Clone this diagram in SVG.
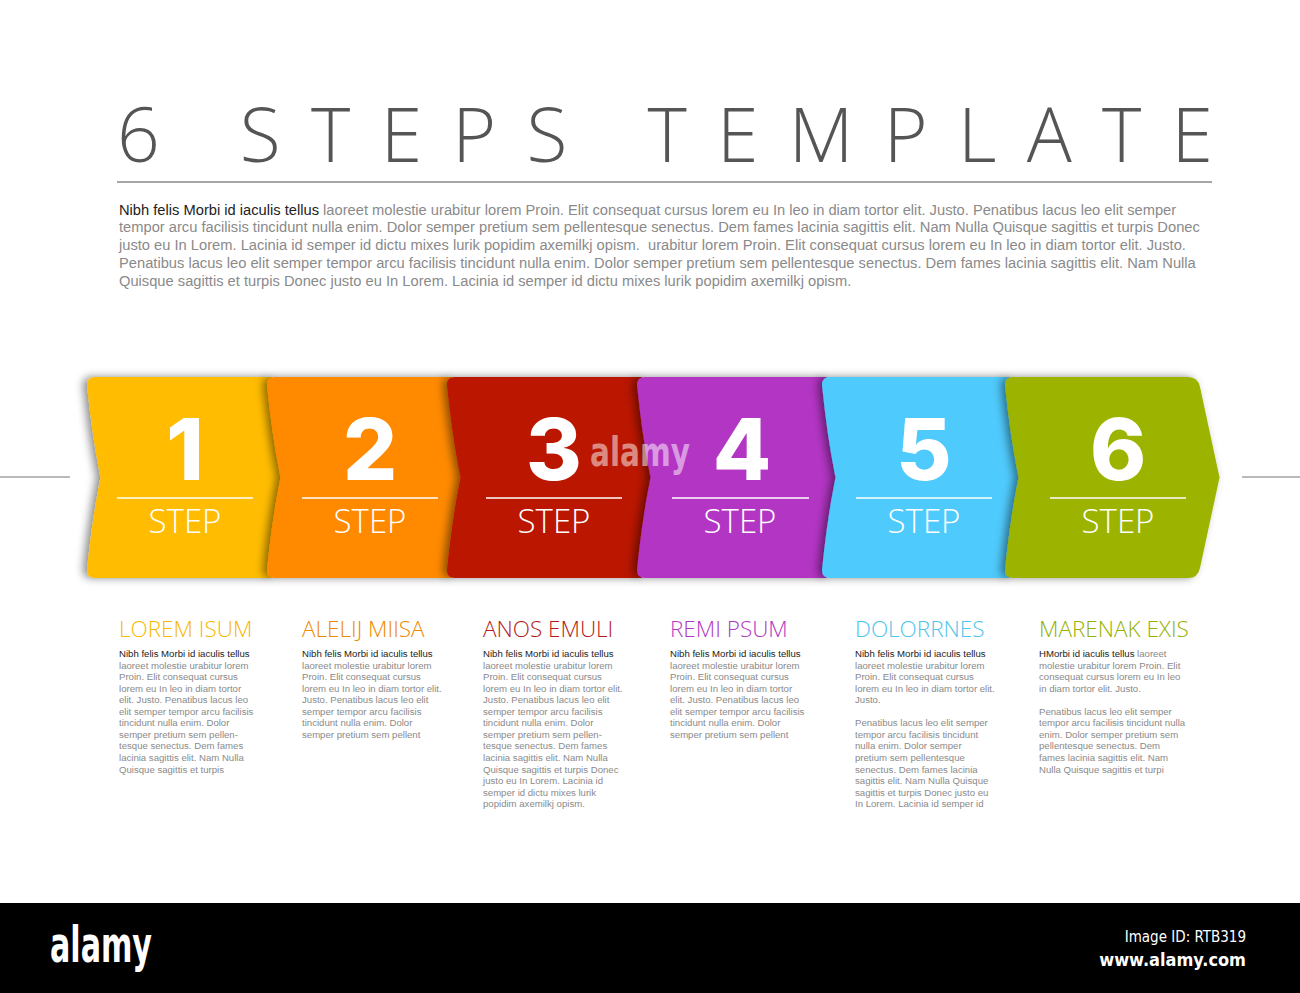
<svg xmlns="http://www.w3.org/2000/svg" width="1300" height="993" viewBox="0 0 1300 993">
<style>
.title{font-family:"Open Sans","Liberation Sans",sans-serif;font-weight:300;font-size:75px;fill:#555}
.para{font-family:"Liberation Sans",Arial,sans-serif;font-size:14.7px;fill:#8a8a8a}
.dark{fill:#222}
.num{font-family:Inter,"Open Sans","Liberation Sans",sans-serif;font-weight:800;font-size:85px;fill:#fff;text-anchor:middle}
.step{font-family:"Open Sans","Liberation Sans",sans-serif;font-weight:300;font-size:33px;fill:#fff;text-anchor:middle}
.rule{stroke:#fff;stroke-width:1.5}
.head{font-family:"Open Sans","Liberation Sans",sans-serif;font-weight:300;font-size:22.5px}
.body{font-family:"Liberation Sans",Arial,sans-serif;font-size:9.6px;fill:#8a8a8a}
.side{stroke:#777;stroke-width:1.2}
</style>
<defs>
<filter id="sh" x="-20%" y="-10%" width="140%" height="120%">
<feDropShadow dx="-4" dy="0" stdDeviation="4" flood-color="#000" flood-opacity="0.45"/>
</filter>
</defs>
<rect width="1300" height="993" fill="#fff"/>

<g id="header">
<text class="title" x="117" y="162" textLength="1096" lengthAdjust="spacing">6 STEPS TEMPLATE</text>
<line x1="117" y1="182" x2="1212" y2="182" stroke="#888" stroke-width="1.5"/>
<text class="para" x="119" y="214.5"><tspan class="dark">Nibh felis Morbi id iaculis tellus</tspan> laoreet molestie urabitur lorem Proin. Elit consequat cursus lorem eu In leo in diam tortor elit. Justo. Penatibus lacus leo elit semper</text>
<text class="para" x="119" y="232.3">tempor arcu facilisis tincidunt nulla enim. Dolor semper pretium sem pellentesque senectus. Dem fames lacinia sagittis elit. Nam Nulla Quisque sagittis et turpis Donec</text>
<text class="para" x="119" y="250" xml:space="preserve">justo eu In Lorem. Lacinia id semper id dictu mixes lurik popidim axemilkj opism.  urabitur lorem Proin. Elit consequat cursus lorem eu In leo in diam tortor elit. Justo.</text>
<text class="para" x="119" y="267.8">Penatibus lacus leo elit semper tempor arcu facilisis tincidunt nulla enim. Dolor semper pretium sem pellentesque senectus. Dem fames lacinia sagittis elit. Nam Nulla</text>
<text class="para" x="119" y="285.5">Quisque sagittis et turpis Donec justo eu In Lorem. Lacinia id semper id dictu mixes lurik popidim axemilkj opism.</text>
</g>

<g id="connectors">
<line class="side" x1="0" y1="477" x2="70" y2="477"/>
<line class="side" x1="1242" y1="477" x2="1300" y2="477"/>
</g>

<g id="step1">
<path filter="url(#sh)" fill="#FFBC00" d="M95 377 H272 L292 477.5 L272 578 H95 Q87 578 87 570 Q92 520 100 480 Q101 477.5 100 475 Q92 435 87 385 Q87 377 95 377 Z"/>
<text class="num" x="185" y="480">1</text>
<line class="rule" x1="117" y1="498" x2="253" y2="498"/>
<text class="step" x="185" y="533">STEP</text>
</g>
<g id="step2">
<path filter="url(#sh)" fill="#FF8A00" d="M275 377 H452 L472 477.5 L452 578 H275 Q267 578 267 570 Q272 520 280 480 Q281 477.5 280 475 Q272 435 267 385 Q267 377 275 377 Z"/>
<text class="num" x="370" y="480">2</text>
<line class="rule" x1="302" y1="498" x2="438" y2="498"/>
<text class="step" x="370" y="533">STEP</text>
</g>
<g id="step3">
<path filter="url(#sh)" fill="#BA1300" d="M455 377 H642 L662 477.5 L642 578 H455 Q447 578 447 570 Q452 520 460 480 Q461 477.5 460 475 Q452 435 447 385 Q447 377 455 377 Z"/>
<text class="num" x="554" y="480">3</text>
<line class="rule" x1="486" y1="498" x2="622" y2="498"/>
<text class="step" x="554" y="533">STEP</text>
</g>
<g id="step4">
<path filter="url(#sh)" fill="#B334C4" d="M645 377 H827 L847 477.5 L827 578 H645 Q637 578 637 570 Q642 520 650 480 Q651 477.5 650 475 Q642 435 637 385 Q637 377 645 377 Z"/>
<text class="num" x="742" y="480">4</text>
<line class="rule" x1="672" y1="498" x2="809" y2="498"/>
<text class="step" x="740" y="533">STEP</text>
</g>
<g id="step5">
<path filter="url(#sh)" fill="#50CAFC" d="M830 377 H1010 L1030 477.5 L1010 578 H830 Q822 578 822 570 Q827 520 835 480 Q836 477.5 835 475 Q827 435 822 385 Q822 377 830 377 Z"/>
<text class="num" x="924" y="480">5</text>
<line class="rule" x1="856" y1="498" x2="992" y2="498"/>
<text class="step" x="924" y="533">STEP</text>
</g>
<g id="step6">
<path filter="url(#sh)" fill="#9CB400" d="M1013 377 H1188 Q1198 377 1200 387 L1219 475 Q1220 477.5 1219 480 L1200 568 Q1198 578 1188 578 H1013 Q1005 578 1005 570 Q1010 520 1018 480 Q1019 477.5 1018 475 Q1010 435 1005 385 Q1005 377 1013 377 Z"/>
<text class="num" x="1118" y="480">6</text>
<line class="rule" x1="1050" y1="498" x2="1186" y2="498"/>
<text class="step" x="1118" y="533">STEP</text>
</g>

<text x="640" y="466" text-anchor="middle" font-family="'Liberation Sans Narrow','DejaVu Sans Condensed','Liberation Sans',sans-serif" font-weight="700" font-size="40" fill="#fff" fill-opacity="0.5" textLength="100" lengthAdjust="spacingAndGlyphs">alamy</text>

<g id="desc1">
<text class="head" x="119" y="637" fill="#F7B900">LOREM ISUM</text>
<text class="body" x="119" y="657"><tspan class="dark">Nibh felis Morbi id iaculis tellus</tspan><tspan x="119" dy="11.55">laoreet molestie urabitur lorem</tspan><tspan x="119" dy="11.55">Proin. Elit consequat cursus</tspan><tspan x="119" dy="11.55">lorem eu In leo in diam tortor</tspan><tspan x="119" dy="11.55">elit. Justo. Penatibus lacus leo</tspan><tspan x="119" dy="11.55">elit semper tempor arcu facilisis</tspan><tspan x="119" dy="11.55">tincidunt nulla enim. Dolor</tspan><tspan x="119" dy="11.55">semper pretium sem pellen-</tspan><tspan x="119" dy="11.55">tesque senectus. Dem fames</tspan><tspan x="119" dy="11.55">lacinia sagittis elit. Nam Nulla</tspan><tspan x="119" dy="11.55">Quisque sagittis et turpis</tspan></text>
</g>
<g id="desc2">
<text class="head" x="302" y="637" fill="#EE8A00">ALELIJ MIISA</text>
<text class="body" x="302" y="657"><tspan class="dark">Nibh felis Morbi id iaculis tellus</tspan><tspan x="302" dy="11.55">laoreet molestie urabitur lorem</tspan><tspan x="302" dy="11.55">Proin. Elit consequat cursus</tspan><tspan x="302" dy="11.55">lorem eu In leo in diam tortor elit.</tspan><tspan x="302" dy="11.55">Justo. Penatibus lacus leo elit</tspan><tspan x="302" dy="11.55">semper tempor arcu facilisis</tspan><tspan x="302" dy="11.55">tincidunt nulla enim. Dolor</tspan><tspan x="302" dy="11.55">semper pretium sem pellent</tspan></text>
</g>
<g id="desc3">
<text class="head" x="483" y="637" fill="#B51A1A">ANOS EMULI</text>
<text class="body" x="483" y="657"><tspan class="dark">Nibh felis Morbi id iaculis tellus</tspan><tspan x="483" dy="11.55">laoreet molestie urabitur lorem</tspan><tspan x="483" dy="11.55">Proin. Elit consequat cursus</tspan><tspan x="483" dy="11.55">lorem eu In leo in diam tortor elit.</tspan><tspan x="483" dy="11.55">Justo. Penatibus lacus leo elit</tspan><tspan x="483" dy="11.55">semper tempor arcu facilisis</tspan><tspan x="483" dy="11.55">tincidunt nulla enim. Dolor</tspan><tspan x="483" dy="11.55">semper pretium sem pellen-</tspan><tspan x="483" dy="11.55">tesque senectus. Dem fames</tspan><tspan x="483" dy="11.55">lacinia sagittis elit. Nam Nulla</tspan><tspan x="483" dy="11.55">Quisque sagittis et turpis Donec</tspan><tspan x="483" dy="11.55">justo eu In Lorem. Lacinia id</tspan><tspan x="483" dy="11.55">semper id dictu mixes lurik</tspan><tspan x="483" dy="11.55">popidim axemilkj opism.</tspan></text>
</g>
<g id="desc4">
<text class="head" x="670" y="637" fill="#B03BC0">REMI PSUM</text>
<text class="body" x="670" y="657"><tspan class="dark">Nibh felis Morbi id iaculis tellus</tspan><tspan x="670" dy="11.55">laoreet molestie urabitur lorem</tspan><tspan x="670" dy="11.55">Proin. Elit consequat cursus</tspan><tspan x="670" dy="11.55">lorem eu In leo in diam tortor</tspan><tspan x="670" dy="11.55">elit. Justo. Penatibus lacus leo</tspan><tspan x="670" dy="11.55">elit semper tempor arcu facilisis</tspan><tspan x="670" dy="11.55">tincidunt nulla enim. Dolor</tspan><tspan x="670" dy="11.55">semper pretium sem pellent</tspan></text>
</g>
<g id="desc5">
<text class="head" x="855" y="637" fill="#4EC4EC">DOLORRNES</text>
<text class="body" x="855" y="657"><tspan class="dark">Nibh felis Morbi id iaculis tellus</tspan><tspan x="855" dy="11.55">laoreet molestie urabitur lorem</tspan><tspan x="855" dy="11.55">Proin. Elit consequat cursus</tspan><tspan x="855" dy="11.55">lorem eu In leo in diam tortor elit.</tspan><tspan x="855" dy="11.55">Justo.</tspan><tspan x="855" dy="23.1">Penatibus lacus leo elit semper</tspan><tspan x="855" dy="11.55">tempor arcu facilisis tincidunt</tspan><tspan x="855" dy="11.55">nulla enim. Dolor semper</tspan><tspan x="855" dy="11.55">pretium sem pellentesque</tspan><tspan x="855" dy="11.55">senectus. Dem fames lacinia</tspan><tspan x="855" dy="11.55">sagittis elit. Nam Nulla Quisque</tspan><tspan x="855" dy="11.55">sagittis et turpis Donec justo eu</tspan><tspan x="855" dy="11.55">In Lorem. Lacinia id semper id</tspan></text>
</g>
<g id="desc6">
<text class="head" x="1039" y="637" fill="#96B000">MARENAK EXIS</text>
<text class="body" x="1039" y="657"><tspan class="dark">HMorbi id iaculis tellus</tspan> laoreet<tspan x="1039" dy="11.55">molestie urabitur lorem Proin. Elit</tspan><tspan x="1039" dy="11.55">consequat cursus lorem eu In leo</tspan><tspan x="1039" dy="11.55">in diam tortor elit. Justo.</tspan><tspan x="1039" dy="23.1">Penatibus lacus leo elit semper</tspan><tspan x="1039" dy="11.55">tempor arcu facilisis tincidunt nulla</tspan><tspan x="1039" dy="11.55">enim. Dolor semper pretium sem</tspan><tspan x="1039" dy="11.55">pellentesque senectus. Dem</tspan><tspan x="1039" dy="11.55">fames lacinia sagittis elit. Nam</tspan><tspan x="1039" dy="11.55">Nulla Quisque sagittis et turpi</tspan></text>
</g>

<g id="footer">
<rect x="0" y="903" width="1300" height="90" fill="#000"/>
<text x="50" y="962" font-family="'Liberation Sans Narrow','DejaVu Sans Condensed','Liberation Sans',sans-serif" font-weight="700" font-size="50" fill="#fff" textLength="102" lengthAdjust="spacingAndGlyphs">alamy</text>
<text x="1246" y="942" text-anchor="end" font-family="'Liberation Sans Narrow','DejaVu Sans Condensed','Liberation Sans',sans-serif" font-size="15" fill="#fff">Image ID: RTB319</text>
<text x="1246" y="966" text-anchor="end" font-family="'Liberation Sans Narrow','DejaVu Sans Condensed','Liberation Sans',sans-serif" font-weight="700" font-size="18" fill="#fff">www.alamy.com</text>
</g>
</svg>
